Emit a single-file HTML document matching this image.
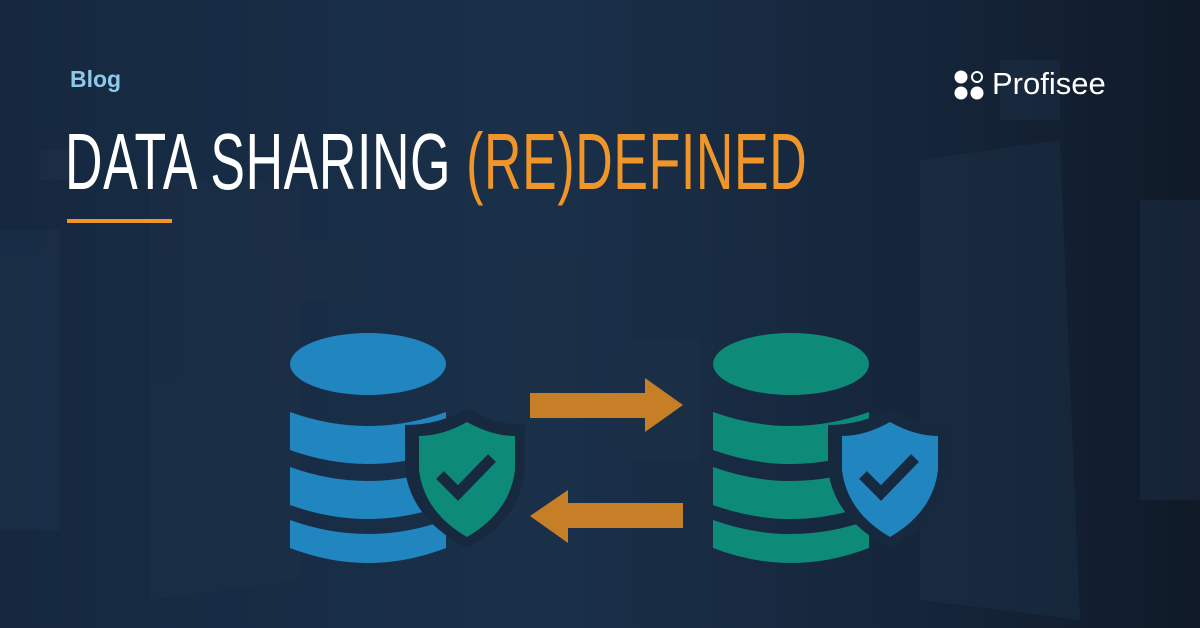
<!DOCTYPE html>
<html><head><style>
body{margin:0}
#c{position:relative;width:1200px;height:628px;overflow:hidden;background:linear-gradient(90deg,#152840 0%,#1a3049 45%,#15263b 75%,#101a28 100%);font-family:"Liberation Sans",sans-serif}
.t{position:absolute;white-space:nowrap}
</style></head><body><div id="c">
<svg width="1200" height="628" style="position:absolute;left:0;top:0">
<g fill="#22364f" opacity="0.35">
<rect x="0" y="230" width="60" height="300"/><rect x="40" y="150" width="30" height="30"/><rect x="1000" y="60" width="60" height="60"/><rect x="1140" y="200" width="60" height="300"/>
</g>
<g fill="#1c2f46" opacity="0.5">
<polygon points="150,180 300,180 300,580 150,600"/>
<polygon points="920,160 1060,140 1080,620 920,600"/>
<rect x="220" y="240" width="150" height="60"/>
<rect x="510" y="255" width="80" height="160"/>
<rect x="620" y="340" width="80" height="120"/>
</g>
<g fill="#2185c0">
<ellipse cx="368" cy="364" rx="78" ry="31"/>
<path d="M290 412 Q368 440 446 412 V450 Q368 478 290 450Z"/>
<path d="M290 467 Q368 495 446 467 V505 Q368 533 290 505Z"/>
<path d="M290 520 Q368 548 446 520 V548 Q368 578 290 548Z"/>
</g>
<g fill="#0e8a78">
<ellipse cx="791" cy="364" rx="78" ry="31"/>
<path d="M713 412 Q791 440 869 412 V450 Q791 478 713 450Z"/>
<path d="M713 467 Q791 495 869 467 V505 Q791 533 713 505Z"/>
<path d="M713 520 Q791 548 869 520 V548 Q791 578 713 548Z"/>
</g>
<path d="M467 408 Q495 425 525 425 L525 470 Q520 520 467 548 Q412 520 405 470 L405 425 Q440 425 467 408Z" fill="#16293f"/>
<path d="M467 422 Q492 436 515 436 L515 470 Q510 512 467 537 Q424 512 419 470 L419 436 Q442 436 467 422Z" fill="#0e8a78"/>
<path d="M440 475 L458 493 L492 458" stroke="#16293f" stroke-width="11" fill="none"/>
<path d="M890 408 Q918 425 948 425 L948 470 Q943 520 890 548 Q835 520 828 470 L828 425 Q863 425 890 408Z" fill="#16293f"/>
<path d="M890 422 Q915 436 938 436 L938 470 Q933 512 890 537 Q847 512 842 470 L842 436 Q865 436 890 422Z" fill="#2185c0"/>
<path d="M863 475 L881 493 L915 458" stroke="#16293f" stroke-width="11" fill="none"/>
<polygon points="530,393 645,393 645,378 683,405 645,432 645,418 530,418" fill="#c67f26"/>
<polygon points="683,503 568,503 568,490 530,516 568,543 568,528 683,528" fill="#c67f26"/>
<rect x="67" y="219" width="105" height="4" fill="#f0952a"/>
<g fill="#fff"><circle cx="961" cy="77" r="6.5"/><circle cx="961" cy="93" r="6.5"/><circle cx="977" cy="93" r="6.5"/></g>
<circle cx="977" cy="77" r="5" fill="none" stroke="#fff" stroke-width="2"/>
</svg>
<div class="t" style="left:70px;top:66px;font-size:23px;font-weight:bold;color:#8ec9ea">Blog</div>
<div class="t" style="left:65px;top:116px;font-size:80px;color:#fff;transform:scaleX(0.648);transform-origin:0 0;letter-spacing:1px">DATA SHARING <span style="color:#f0952a">(RE)DEFINED</span></div>
<div class="t" style="left:992px;top:66px;font-size:31px;color:#fff">Profisee</div>
</div></body></html>
